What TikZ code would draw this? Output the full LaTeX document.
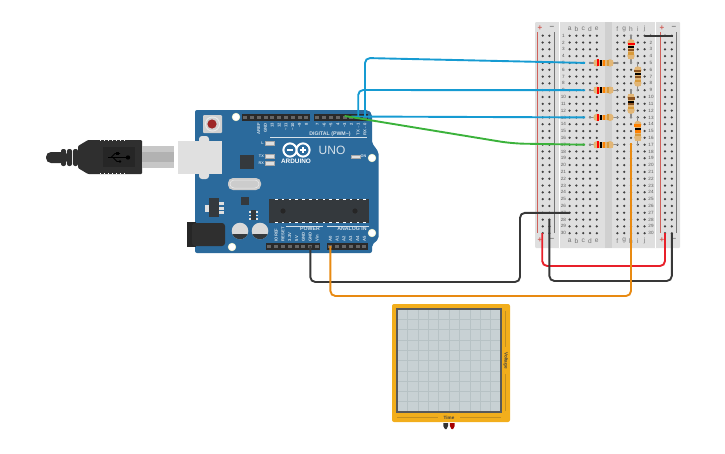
\documentclass[tikz,border=0pt]{standalone}
\usepackage{fontspec}
\setmainfont{Liberation Sans}
\usepackage{xcolor}
\usetikzlibrary{calc}

\definecolor{boardblue}{HTML}{2B6A9C}
\definecolor{boardink}{HTML}{D5E1EA}
\definecolor{headerdark}{HTML}{2A2A2A}
\definecolor{chipdark}{HTML}{34393D}
\definecolor{plastic}{HTML}{2F2F2F}
\definecolor{breadgrey}{HTML}{DFDFDF}
\definecolor{breadgap}{HTML}{D0D0D0}
\definecolor{railred}{HTML}{D0605A}
\definecolor{wireblue}{HTML}{169BD2}
\definecolor{wiregreen}{HTML}{3BB23B}
\definecolor{wirered}{HTML}{E8202A}
\definecolor{wireorange}{HTML}{E88A12}
\definecolor{wireblack}{HTML}{383838}
\definecolor{bodytan}{HTML}{E2B676}
\definecolor{bandgold}{HTML}{D89A3A}
\definecolor{bandbrown}{HTML}{8A5220}
\definecolor{scopeyellow}{HTML}{F2AE1C}
\definecolor{scopeline}{HTML}{C48F20}
\definecolor{screenfill}{HTML}{C8D1D4}
\definecolor{screengrid}{HTML}{B7C2C5}

\begin{document}
\begin{tikzpicture}[
    x=1pt, y=-1pt,
    wire/.style={line width=1.9pt, rounded corners=5pt},
    pinlabel/.style={font=\fontsize{4.2}{5}\selectfont\bfseries, text=boardink,
                     inner sep=0pt, rotate=90},
    silk/.style={font=\fontsize{5.2}{6}\selectfont\bfseries, text=boardink, inner sep=0pt},
    rownum/.style={font=\fontsize{4.6}{5}\selectfont, text=black!65, inner sep=0pt},
    columnlabel/.style={font=\fontsize{6.6}{7}\selectfont, text=black!55, inner sep=0pt},
    railsign/.style={font=\fontsize{8}{9}\selectfont\bfseries, text=black!50, inner sep=0pt},
    scopelabel/.style={font=\fontsize{4.6}{5}\selectfont\bfseries, text=black!75, inner sep=0pt},
    led/.style={fill=black!12, draw=black!35, line width=0.3pt},
    hole/.style={fill=black!75}
]
    \useasboundingbox (0,0) rectangle (725,453);

    % usb cable
    \fill[plastic, rounded corners=5pt] (46,152) rectangle (68,163);
    \foreach \x in {61,67,73}
        \fill[plastic, rounded corners=2pt] (\x,149) rectangle ++(5,17);
    \fill[plastic, rounded corners=1pt] (78,146) -- (88,140) -- (142,140) -- (142,174)
        -- (88,174) -- (78,168) -- cycle;
    \fill[black!85] (103,147) rectangle (135,167);
    \foreach \x in {100,104,...,126} {
        \fill[white] (\x,140) rectangle ++(1.3,1.1);
        \fill[white] (\x,172.9) rectangle ++(1.3,1.1);
    }
    \draw[black, line width=0.8pt] (108,157.5) -- (128,157.5)
        (111,157.5) -- (115,153.5) -- (120,153.5)
        (113,157.5) -- (117,161.5) -- (120,161.5);
    \fill[black] (128,157.5) circle (2.2);
    \fill[black] (115.5,152) rectangle ++(3,3);
    \fill[black] (120,161.5) circle (1.4);
    \fill[black!22] (142,146) rectangle (174,168);
    \fill[black!30] (142,152) rectangle (174,162);

    % arduino board
    \fill[boardblue, rounded corners=2pt] (195,110) -- (368,110) -- (372,114) -- (372,143)
        -- (378.5,152) -- (378.5,239) -- (372,245) -- (372,253) -- (195,253) -- cycle;

    % usb socket
    \fill[black!12, rounded corners=3pt] (199,136) rectangle (209,179);
    \fill[black!12] (178,141) rectangle (222,174);

    % reset button
    \fill[black!18, rounded corners=1pt] (203,115) rectangle (222,133);
    \fill[black!8] (212.5,124) circle (7.5);
    \fill[black!18] (212.5,124) circle (6.5);
    \fill[red!55!black!85] (212,124) circle (4.6);

    % headers
    \foreach \x/\n/\name in {241.7/10/hdA, 314/8/hdB} {
        \fill[headerdark] (\x,114) rectangle ++({\n*6.8},6.5);
        \foreach \i in {1,...,\n}
            \fill[black!60] ({\x+(\i-1)*6.8+1.4},115.5) rectangle ++(4,3.5);
    }
    \foreach \x/\n/\name in {266/8/hdC, 327/6/hdD} {
        \fill[headerdark] (\x,243) rectangle ++({\n*6.8},6.5);
        \foreach \i in {1,...,\n}
            \fill[black!60] ({\x+(\i-1)*6.8+1.4},244.5) rectangle ++(4,3.5);
    }

    % pin labels
    \foreach \t [count=\i] in {AREF,GND,13,12,\textasciitilde 11,\textasciitilde 10,\textasciitilde 9,8}
        \node[pinlabel, anchor=east] (top\i) at ({258.7+(\i-1)*6.8},123) {\t};
    \foreach \t [count=\i] in {7,\textasciitilde 6,\textasciitilde 5,4,\textasciitilde 3,2,TX→1,RX←0}
        \node[pinlabel, anchor=east] (dig\i) at ({317.4+(\i-1)*6.8},123) {\t};
    \foreach \t [count=\i] in {IOREF,RESET,3.3V,5V,GND,GND,Vin}
        \node[pinlabel, anchor=west] (pow\i) at ({276.2+(\i-1)*6.8},241.5) {\t};
    \foreach \t [count=\i] in {A0,A1,A2,A3,A4,A5}
        \node[pinlabel, anchor=west] (ana\i) at ({330.4+(\i-1)*6.8},241.5) {\t};

    \node[silk] (digital) at (330,134) {DIGITAL (PWM\textasciitilde)};
    \node[silk] (power) at (310,229) {POWER};
    \node[silk] (analog) at (352,229) {ANALOG IN};
    \draw[boardink, line width=0.5pt] (270,137.7) -- (367,137.7)
        (286,226) -- (323,226) (327,226) -- (369,226);

    % logo
    \draw[white, line width=2pt] (290,150) circle (6.6) (303,150) circle (6.6);
    \draw[white, line width=1.1pt] (287,150) -- (293,150) (300,150) -- (306,150) (303,147) -- (303,153);
    \node[silk, text=white, font=\fontsize{6.4}{7}\selectfont\bfseries] (arduino) at (296,161) {ARDUINO};
    \node[font=\fontsize{12}{14}\selectfont, text=boardink, inner sep=0pt] (uno) at (332,150) {UNO};

    % leds
    \foreach \y/\t/\name in {143/L/ledL, 156/TX/ledTX, 163/RX/ledRX} {
        \fill[led] (265.5,\y-1.8) rectangle (274.5,\y+1.8);
        \node[silk, font=\fontsize{3.8}{4}\selectfont\bfseries, anchor=east] (\name) at (264,\y) {\t};
    }
    \fill[led] (351,154.8) rectangle (360,158.2);
    \node[silk, font=\fontsize{3.8}{4}\selectfont\bfseries, anchor=west] (ledON) at (360.5,156.5) {ON};

    % small parts
    \fill[chipdark] (240,155) rectangle (254,169);
    \fill[chipdark] (241,196.5) rectangle (249,205);
    \fill[black!20, rounded corners=5pt] (228,178) rectangle (261,190);
    \draw[black!8, line width=0.5pt, rounded corners=4pt] (230,180) rectangle (259,188);
    \fill[black!12] (205,205) rectangle (210,212);
    \foreach \y in {202,207,211}
        \fill[black!12] (218,\y) rectangle ++(6,3);
    \fill[chipdark] (209,198) rectangle (219,217);
    \foreach \y in {211,214.5,218}
        \fill[black!10] (249,\y) rectangle ++(9,1.6);
    \fill[chipdark] (251,210) rectangle (256,220);

    % main chip
    \fill[chipdark] (269,199) rectangle (369,223);
    \foreach \i in {0,...,13} {
        \fill[white] ({275+\i*6.8},199) rectangle ++(2.6,1.2);
        \fill[white] ({275+\i*6.8},221.8) rectangle ++(2.6,1.2);
    }
    \fill[black!85] (283,211) circle (2.6) (355,211) circle (2.6);

    % power jack
    \fill[black!85] (187,222) rectangle (196,247);
    \fill[plastic, rounded corners=3pt] (192,223) rectangle (225,246);

    % capacitors
    \foreach \x in {240,260} {
        \fill[black!15] (\x,231) circle (8.3);
        \begin{scope}
            \clip (\x,231) circle (8.3);
            \fill[chipdark] (\x-9,233.5) rectangle (\x+9,241);
        \end{scope}
    }

    % mounting holes
    \foreach \x/\y in {236/117, 372/158, 372/233, 232/247}
        \filldraw[fill=white, draw=black!15!yellow!20!white, line width=0.6pt] (\x,\y) circle (3.8);

    % breadboard
    \fill[breadgrey, rounded corners=1pt] (535,22) rectangle (680,248);
    \fill[breadgap] (605,22) rectangle (612,248);
    \draw[white, line width=0.5pt] (559,22) -- (559,248) (655,22) -- (655,248);
    \draw[railred, line width=0.7pt] (537.5,32) -- (537.5,233) (660,32) -- (660,233);
    \draw[black!55, line width=0.7pt] (554,32) -- (554,233) (676.5,32) -- (676.5,233);
    \foreach \r in {1,...,30} {
        \pgfmathsetmacro{\ry}{35.7+(\r-1)*6.81}
        \foreach \x in {542.7,549.4,569.6,576.4,583.2,590,596.8,617.4,624.2,631,637.8,644.6,665,671.8}
            \fill[hole] (\x,\ry) circle (1.25);
        \node[rownum] (rowL\r) at (563.4,\ry) {\r};
        \node[rownum] (rowR\r) at (651,\ry) {\r};
    }
    \foreach \t/\x in {a/569.6,b/576.4,c/583.2,d/590,e/596.8,f/617.4,g/624.2,h/631,i/637.8,j/644.6} {
        \node[columnlabel] (top\t) at (\x,29) {\t};
        \node[columnlabel] (bot\t) at (\x,240.7) {\t};
    }
    \foreach \y/\name in {28/topr, 240/botr} {
        \node[railsign, text=railred] (\name La) at (540,\y) {+};
        \node[railsign] (\name Lb) at (552,\y) {−};
        \node[railsign, text=railred] (\name Ra) at (662,\y) {+};
        \node[railsign] (\name Rb) at (674,\y) {−};
    }

    % resistors
    \foreach \x/\y/\a/\ca/\cb/\cc/\cd in {
        603.5/62.9/0/red/black/orange/bandgold,
        603.5/90.2/0/red/black/orange/bandgold,
        603.5/117.4/0/red/black/orange/bandgold,
        603.5/144.7/0/red/black/orange/bandgold,
        631/49.3/-90/red/black/bandbrown/bandgold,
        637.8/76.5/-90/bandbrown/black/bandbrown/bandgold,
        631/103.8/-90/bandbrown/black/bandbrown/bandgold,
        637.8/131/-90/orange/black/orange/bandgold} {
        \begin{scope}[shift={(\x,\y)}, rotate=\a]
            \draw[black!45, line width=1.3pt] (-14.5,0) -- (14.5,0);
            \fill[bodytan] (-9.5,-2.8) rectangle (9.5,2.8);
            \fill[bodytan] (-6.5,0) circle (3.7) (6.5,0) circle (3.7);
            \fill[\ca] (-6.6,-3.5) rectangle ++(2.4,7);
            \fill[\cb] (-3.2,-2.9) rectangle ++(1.9,5.8);
            \fill[\cc] (-0.6,-2.9) rectangle ++(2.2,5.8);
            \fill[\cd] (3,-3) rectangle ++(2.2,6);
        \end{scope}
    }

    % oscilloscope
    \fill[scopeyellow, rounded corners=2pt] (392,304) rectangle (510,422);
    \fill[screenfill] (397,309) rectangle (501,412);
    \foreach \i in {1,...,9} {
        \draw[screengrid, line width=0.5pt] ({397+\i*10.4},309) -- ({397+\i*10.4},412);
        \draw[screengrid, line width=0.5pt] (397,{309+\i*10.3}) -- (501,{309+\i*10.3});
    }
    \draw[black!65, line width=1.4pt] (397,309) rectangle (501,412);
    \node[scopelabel, rotate=-90] (voltage) at (505.7,360.7) {Voltage};
    \node[scopelabel] (time) at (449,417.7) {Time};
    \draw[scopeline, line width=0.6pt] (397,417.7) -- (438,417.7) (460,417.7) -- (501,417.7)
        (505.7,311) -- (505.7,347) (505.7,374) -- (505.7,411);
    \foreach \x/\c/\name in {445.7/black!80/termA, 452.3/red!65!black/termB} {
        \coordinate (\name) at (\x,423);
        \fill[\c] (\name) ++(-2.4,0) -- ++(4.8,0) -- ++(0,3) -- ++(-1.6,3) -- ++(-1.6,0) -- ++(-1.6,-3) -- cycle;
    }

    % wire ends
    \coordinate (pinD0) at (365,116);
    \coordinate (pinD1) at (358.2,116);
    \coordinate (pinD2) at (351.4,116.5);
    \coordinate (pinD3) at (344.6,116);
    \coordinate (pinGnd) at (310.3,246);
    \coordinate (pinA0) at (330.4,246);
    \coordinate (row5) at (585,62.9);
    \coordinate (row9) at (585,90.2);
    \coordinate (row13) at (585,117.4);
    \coordinate (row17) at (585,144.7);
    \coordinate (row27) at (570,212.8);
    \coordinate (rowH17) at (631,143);
    \coordinate (railLp) at (542.2,233);
    \coordinate (railLn) at (549.4,219.6);
    \coordinate (railRp) at (665,233);
    \coordinate (railRn) at (671.8,233);
    \coordinate (jumpA) at (644.6,35.7);
    \coordinate (jumpB) at (672.7,35.7);

    % wires
    \draw[wire, wireblue] (pinD0) -- ++(0,-58) -- (row5);
    \draw[wire, wireblue] (pinD1) -- ++(0,-26) -- (row9);
    \draw[wire, wireblue] (pinD2) -- (row13);
    \draw[wire, wiregreen, rounded corners=12pt] (pinD3) -- (512,143.5) -- (row17);
    \draw[wire, wireblack] (jumpA) -- (jumpB);
    \draw[wire, wireblack] (pinGnd) |- (520,282) |- (row27);
    \draw[wire, wirered] (railLp) |- (665,266) -- (railRp);
    \draw[wire, wireblack] (railLn) |- (671.8,281) -- (railRn);
    \draw[wire, wireorange] (pinA0) |- (631,296) -- (rowH17);
\end{tikzpicture}
\end{document}
